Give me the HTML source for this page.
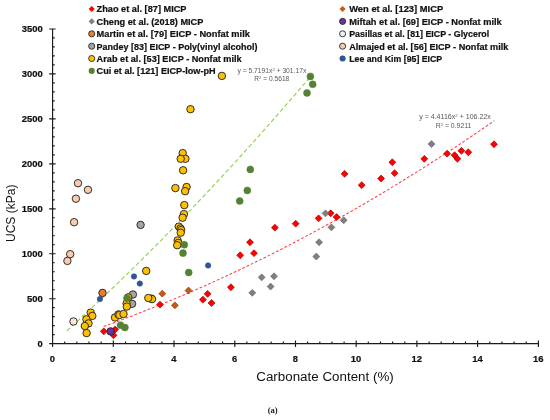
<!DOCTYPE html><html><head><meta charset="utf-8"><title>UCS vs Carbonate Content</title>
<style>html,body{margin:0;padding:0;background:#fff}svg{display:block}text{font-family:"Liberation Sans",sans-serif}.b{font-weight:bold;fill:#111;stroke:#111;stroke-width:0.22px}.eq{fill:#595959;font-size:6.6px}</style></head><body>
<svg width="550" height="420" viewBox="0 0 550 420">
<rect width="550" height="420" fill="#fff"/>
<path d="M52.6 29.0V343.6H538.4M49.2 343.6H55.6M52.6 334.6H54.7M52.6 325.6H54.7M52.6 316.6H54.7M52.6 307.6H54.7M49.2 298.7H55.6M52.6 289.7H54.7M52.6 280.7H54.7M52.6 271.7H54.7M52.6 262.7H54.7M49.2 253.7H55.6M52.6 244.7H54.7M52.6 235.7H54.7M52.6 226.7H54.7M52.6 217.7H54.7M49.2 208.8H55.6M52.6 199.8H54.7M52.6 190.8H54.7M52.6 181.8H54.7M52.6 172.8H54.7M49.2 163.8H55.6M52.6 154.8H54.7M52.6 145.8H54.7M52.6 136.8H54.7M52.6 127.8H54.7M49.2 118.9H55.6M52.6 109.9H54.7M52.6 100.9H54.7M52.6 91.9H54.7M52.6 82.9H54.7M49.2 73.9H55.6M52.6 64.9H54.7M52.6 55.9H54.7M52.6 46.9H54.7M52.6 37.9H54.7M49.2 29.0H55.6M52.6 340.6V347.0M64.7 341.5V343.6M76.9 341.5V343.6M89.0 341.5V343.6M101.2 341.5V343.6M113.3 340.6V347.0M125.5 341.5V343.6M137.6 341.5V343.6M149.8 341.5V343.6M161.9 341.5V343.6M174.0 340.6V347.0M186.2 341.5V343.6M198.3 341.5V343.6M210.5 341.5V343.6M222.6 341.5V343.6M234.8 340.6V347.0M246.9 341.5V343.6M259.0 341.5V343.6M271.2 341.5V343.6M283.3 341.5V343.6M295.5 340.6V347.0M307.6 341.5V343.6M319.8 341.5V343.6M331.9 341.5V343.6M344.1 341.5V343.6M356.2 340.6V347.0M368.3 341.5V343.6M380.5 341.5V343.6M392.6 341.5V343.6M404.8 341.5V343.6M416.9 340.6V347.0M429.1 341.5V343.6M441.2 341.5V343.6M453.4 341.5V343.6M465.5 341.5V343.6M477.6 340.6V347.0M489.8 341.5V343.6M501.9 341.5V343.6M514.1 341.5V343.6M526.2 341.5V343.6M538.4 340.6V347.0" stroke="#1a1a1a" stroke-width="1.15" fill="none"/>
<polyline points="66.9,330.8 73.0,325.2 79.1,319.6 85.2,314.0 91.2,308.3 97.3,302.6 103.4,296.8 109.5,291.0 115.6,285.2 121.7,279.3 127.8,273.4 133.9,267.4 140.0,261.4 146.1,255.3 152.2,249.2 158.3,243.1 164.4,236.9 170.5,230.7 176.6,224.5 182.7,218.2 188.8,211.8 194.9,205.4 201.0,199.0 207.0,192.6 213.1,186.0 219.2,179.5 225.3,172.9 231.4,166.3 237.5,159.6 243.6,152.9 249.7,146.1 255.8,139.3 261.9,132.5 268.0,125.6 274.1,118.7 280.2,111.7 286.3,104.7 292.4,97.7 298.5,90.6 304.6,83.5 310.7,76.3" fill="none" stroke="#92d050" stroke-width="1.15" stroke-dasharray="4.2 2.6"/>
<polyline points="103.6,326.4 113.4,322.9 123.1,319.3 132.9,315.6 142.7,311.8 152.4,307.9 162.2,304.0 172.0,299.9 181.8,295.8 191.5,291.6 201.3,287.3 211.1,283.0 220.8,278.5 230.6,274.0 240.4,269.4 250.1,264.7 259.9,259.9 269.7,255.1 279.4,250.1 289.2,245.1 299.0,240.0 308.7,234.8 318.5,229.5 328.3,224.2 338.0,218.8 347.8,213.2 357.6,207.7 367.3,202.0 377.1,196.2 386.9,190.4 396.7,184.4 406.4,178.4 416.2,172.4 426.0,166.2 435.7,159.9 445.5,153.6 455.3,147.2 465.0,140.7 474.8,134.1 484.6,127.4 494.3,120.7" fill="none" stroke="#ff4040" stroke-width="1.05" stroke-dasharray="2.8 1.9"/>
<path d="M230.9 283.8l3.45 3.45l-3.45 3.45l-3.45 -3.45zM240.2 251.8l3.45 3.45l-3.45 3.45l-3.45 -3.45zM250.0 238.8l3.45 3.45l-3.45 3.45l-3.45 -3.45zM254.0 249.7l3.45 3.45l-3.45 3.45l-3.45 -3.45zM274.9 224.2l3.45 3.45l-3.45 3.45l-3.45 -3.45zM295.7 220.2l3.45 3.45l-3.45 3.45l-3.45 -3.45zM318.6 214.9l3.45 3.45l-3.45 3.45l-3.45 -3.45zM330.7 209.8l3.45 3.45l-3.45 3.45l-3.45 -3.45zM336.6 213.6l3.45 3.45l-3.45 3.45l-3.45 -3.45zM344.6 170.4l3.45 3.45l-3.45 3.45l-3.45 -3.45zM361.7 181.7l3.45 3.45l-3.45 3.45l-3.45 -3.45zM381.1 175.1l3.45 3.45l-3.45 3.45l-3.45 -3.45zM392.3 158.8l3.45 3.45l-3.45 3.45l-3.45 -3.45zM394.6 169.7l3.45 3.45l-3.45 3.45l-3.45 -3.45zM424.3 155.4l3.45 3.45l-3.45 3.45l-3.45 -3.45zM447.1 150.2l3.45 3.45l-3.45 3.45l-3.45 -3.45zM454.6 151.7l3.45 3.45l-3.45 3.45l-3.45 -3.45zM457.4 155.3l3.45 3.45l-3.45 3.45l-3.45 -3.45zM461.4 147.3l3.45 3.45l-3.45 3.45l-3.45 -3.45zM468.3 148.8l3.45 3.45l-3.45 3.45l-3.45 -3.45zM494.0 140.8l3.45 3.45l-3.45 3.45l-3.45 -3.45zM207.6 290.4l3.45 3.45l-3.45 3.45l-3.45 -3.45zM202.9 296.2l3.45 3.45l-3.45 3.45l-3.45 -3.45zM211.5 299.6l3.45 3.45l-3.45 3.45l-3.45 -3.45zM160.0 301.2l3.45 3.45l-3.45 3.45l-3.45 -3.45zM103.8 327.9l3.45 3.45l-3.45 3.45l-3.45 -3.45zM115.1 326.1l3.45 3.45l-3.45 3.45l-3.45 -3.45zM113.5 331.8l3.45 3.45l-3.45 3.45l-3.45 -3.45z" fill="#ff0000" stroke="#a80000" stroke-width="0.7"/>
<path d="M162.3 290.2l3.45 3.45l-3.45 3.45l-3.45 -3.45zM188.5 287.1l3.45 3.45l-3.45 3.45l-3.45 -3.45zM174.9 301.9l3.45 3.45l-3.45 3.45l-3.45 -3.45z" fill="#c55a11" stroke="#8a3f0c" stroke-width="0.7"/>
<path d="M252.3 289.4l3.45 3.45l-3.45 3.45l-3.45 -3.45zM261.7 273.9l3.45 3.45l-3.45 3.45l-3.45 -3.45zM274.0 272.8l3.45 3.45l-3.45 3.45l-3.45 -3.45zM270.6 283.1l3.45 3.45l-3.45 3.45l-3.45 -3.45zM316.3 253.1l3.45 3.45l-3.45 3.45l-3.45 -3.45zM319.1 238.8l3.45 3.45l-3.45 3.45l-3.45 -3.45zM331.4 223.9l3.45 3.45l-3.45 3.45l-3.45 -3.45zM325.5 209.9l3.45 3.45l-3.45 3.45l-3.45 -3.45zM343.7 216.8l3.45 3.45l-3.45 3.45l-3.45 -3.45zM431.5 140.6l3.45 3.45l-3.45 3.45l-3.45 -3.45z" fill="#7f7f7f" stroke="#6a6a6a" stroke-width="0.7"/>
<g fill="#2f5597" stroke="#2a4d8a" stroke-width="0.5"><circle cx="99.9" cy="299.1" r="2.75"/><circle cx="134.0" cy="276.4" r="2.75"/><circle cx="139.8" cy="283.6" r="2.75"/><circle cx="208.1" cy="265.4" r="2.75"/></g>
<g fill="#7030a0" stroke="#262626" stroke-width="0.95"><circle cx="110.6" cy="331.4" r="3.72"/></g>
<g fill="#ed7d31" stroke="#262626" stroke-width="0.95"><circle cx="102.5" cy="292.9" r="3.72"/></g>
<g fill="#fbe5d6" stroke="#262626" stroke-width="0.95"><circle cx="73.5" cy="321.5" r="3.72"/></g>
<g fill="#a5a5a5" stroke="#262626" stroke-width="0.95"><circle cx="140.6" cy="224.9" r="3.72"/><circle cx="132.9" cy="294.5" r="3.72"/><circle cx="132.1" cy="303.8" r="3.72"/></g>
<g fill="#f8cbad" stroke="#262626" stroke-width="0.95"><circle cx="78.0" cy="183.2" r="3.72"/><circle cx="88.0" cy="189.8" r="3.72"/><circle cx="75.9" cy="198.7" r="3.72"/><circle cx="74.1" cy="222.2" r="3.72"/><circle cx="70.2" cy="254.2" r="3.72"/><circle cx="67.4" cy="260.9" r="3.72"/></g>
<g fill="#ffc000" stroke="#262626" stroke-width="0.95"><circle cx="221.9" cy="75.9" r="3.72"/><circle cx="190.5" cy="109.2" r="3.72"/><circle cx="182.7" cy="153.1" r="3.72"/><circle cx="185.4" cy="158.8" r="3.72"/><circle cx="180.7" cy="158.8" r="3.72"/><circle cx="183.1" cy="170.3" r="3.72"/><circle cx="175.4" cy="188.1" r="3.72"/><circle cx="186.6" cy="187.0" r="3.72"/><circle cx="185.1" cy="191.2" r="3.72"/><circle cx="184.3" cy="205.1" r="3.72"/><circle cx="183.9" cy="214.1" r="3.72"/><circle cx="182.6" cy="217.7" r="3.72"/><circle cx="178.8" cy="226.6" r="3.72"/><circle cx="180.5" cy="228.5" r="3.72"/><circle cx="181.2" cy="230.1" r="3.72"/><circle cx="180.7" cy="232.7" r="3.72"/><circle cx="177.6" cy="240.4" r="3.72"/><circle cx="178.3" cy="242.9" r="3.72"/><circle cx="177.2" cy="245.2" r="3.72"/><circle cx="151.3" cy="298.6" r="3.72"/><circle cx="152.0" cy="299.1" r="3.72"/><circle cx="148.3" cy="298.0" r="3.72"/><circle cx="146.2" cy="270.9" r="3.72"/><circle cx="128.2" cy="297.3" r="3.72"/><circle cx="126.6" cy="303.5" r="3.72"/><circle cx="126.8" cy="306.6" r="3.72"/><circle cx="115.0" cy="317.5" r="3.72"/><circle cx="118.4" cy="314.4" r="3.72"/><circle cx="119.5" cy="315.0" r="3.72"/><circle cx="123.5" cy="314.0" r="3.72"/><circle cx="90.7" cy="312.6" r="3.72"/><circle cx="92.3" cy="315.9" r="3.72"/><circle cx="86.4" cy="319.3" r="3.72"/><circle cx="88.5" cy="323.4" r="3.72"/><circle cx="84.8" cy="326.0" r="3.72"/><circle cx="86.6" cy="333.1" r="3.72"/></g>
<g fill="#548235" stroke="#548235" stroke-width="0.5"><circle cx="310.4" cy="76.4" r="3.5"/><circle cx="312.7" cy="84.3" r="3.5"/><circle cx="307.0" cy="92.9" r="3.5"/><circle cx="250.3" cy="169.4" r="3.5"/><circle cx="247.3" cy="190.4" r="3.5"/><circle cx="239.7" cy="201.0" r="3.5"/><circle cx="184.3" cy="244.7" r="3.5"/><circle cx="183.0" cy="253.1" r="3.5"/><circle cx="188.7" cy="272.5" r="3.5"/><circle cx="127.0" cy="298.2" r="3.5"/><circle cx="120.5" cy="325.2" r="3.5"/><circle cx="124.9" cy="327.5" r="3.5"/></g>
<path d="M91.7 5.9l3.1 3.1l-3.1 3.1l-3.1 -3.1z" fill="#ff0000"/>
<text class="b" x="96.6" y="12.3" font-size="9.5" textLength="89.9" lengthAdjust="spacingAndGlyphs">Zhao et al. [87] MICP</text>
<path d="M91.7 18.299999999999997l3.1 3.1l-3.1 3.1l-3.1 -3.1z" fill="#7f7f7f"/>
<text class="b" x="96.6" y="24.7" font-size="9.5" textLength="106.8" lengthAdjust="spacingAndGlyphs">Cheng et al. (2018) MICP</text>
<circle cx="91.7" cy="33.8" r="3.05" fill="#ed7d31" stroke="#262626" stroke-width="0.9"/>
<text class="b" x="96.6" y="37.1" font-size="9.5" textLength="153.3" lengthAdjust="spacingAndGlyphs">Martin et al. [79] EICP - Nonfat milk</text>
<circle cx="91.7" cy="46.2" r="3.05" fill="#a5a5a5" stroke="#262626" stroke-width="0.9"/>
<text class="b" x="96.6" y="49.5" font-size="9.5" textLength="160.8" lengthAdjust="spacingAndGlyphs">Pandey [83] EICP - Poly(vinyl alcohol)</text>
<circle cx="91.7" cy="58.5" r="3.05" fill="#ffc000" stroke="#262626" stroke-width="0.9"/>
<text class="b" x="96.6" y="61.8" font-size="9.5" textLength="145.1" lengthAdjust="spacingAndGlyphs">Arab et al. [53] EICP - Nonfat milk</text>
<circle cx="91.7" cy="70.9" r="3.05" fill="#548235"/>
<text class="b" x="96.6" y="74.2" font-size="9.5" textLength="119" lengthAdjust="spacingAndGlyphs">Cui et al. [121] EICP-low-pH</text>
<path d="M342.6 5.9l3.1 3.1l-3.1 3.1l-3.1 -3.1z" fill="#c55a11"/>
<text class="b" x="349.2" y="12.3" font-size="9.5" textLength="94" lengthAdjust="spacingAndGlyphs">Wen et al. [123] MICP</text>
<circle cx="342.6" cy="21.4" r="3.05" fill="#7030a0" stroke="#262626" stroke-width="0.9"/>
<text class="b" x="349.2" y="24.7" font-size="9.5" textLength="152.5" lengthAdjust="spacingAndGlyphs">Miftah et al. [69] EICP - Nonfat milk</text>
<circle cx="342.6" cy="33.8" r="3.05" fill="#f2f2f2" stroke="#262626" stroke-width="0.9"/>
<text class="b" x="349.2" y="37.1" font-size="9.5" textLength="140" lengthAdjust="spacingAndGlyphs">Pasillas et al. [81] EICP - Glycerol</text>
<circle cx="342.6" cy="46.2" r="3.05" fill="#f8cbad" stroke="#262626" stroke-width="0.9"/>
<text class="b" x="349.2" y="49.5" font-size="9.5" textLength="159.2" lengthAdjust="spacingAndGlyphs">Almajed et al. [56] EICP - Nonfat milk</text>
<circle cx="342.6" cy="58.5" r="3.05" fill="#2f5597"/>
<text class="b" x="349.2" y="61.8" font-size="9.5" textLength="93" lengthAdjust="spacingAndGlyphs">Lee and Kim [95] EICP</text>
<text class="b" x="37.5" y="347.0" font-size="9.4" textLength="5.2" lengthAdjust="spacingAndGlyphs">0</text>
<text class="b" x="27.0" y="302.1" font-size="9.4" textLength="15.8" lengthAdjust="spacingAndGlyphs">500</text>
<text class="b" x="21.7" y="257.1" font-size="9.4" textLength="21.0" lengthAdjust="spacingAndGlyphs">1000</text>
<text class="b" x="21.7" y="212.2" font-size="9.4" textLength="21.0" lengthAdjust="spacingAndGlyphs">1500</text>
<text class="b" x="21.7" y="167.2" font-size="9.4" textLength="21.0" lengthAdjust="spacingAndGlyphs">2000</text>
<text class="b" x="21.7" y="122.3" font-size="9.4" textLength="21.0" lengthAdjust="spacingAndGlyphs">2500</text>
<text class="b" x="21.7" y="77.3" font-size="9.4" textLength="21.0" lengthAdjust="spacingAndGlyphs">3000</text>
<text class="b" x="21.7" y="32.4" font-size="9.4" textLength="21.0" lengthAdjust="spacingAndGlyphs">3500</text>
<text class="b" x="49.8" y="362.1" font-size="9.4" textLength="5.2" lengthAdjust="spacingAndGlyphs">0</text>
<text class="b" x="110.5" y="362.1" font-size="9.4" textLength="5.2" lengthAdjust="spacingAndGlyphs">2</text>
<text class="b" x="171.2" y="362.1" font-size="9.4" textLength="5.2" lengthAdjust="spacingAndGlyphs">4</text>
<text class="b" x="231.9" y="362.1" font-size="9.4" textLength="5.2" lengthAdjust="spacingAndGlyphs">6</text>
<text class="b" x="292.7" y="362.1" font-size="9.4" textLength="5.2" lengthAdjust="spacingAndGlyphs">8</text>
<text class="b" x="350.8" y="362.1" font-size="9.4" textLength="10.5" lengthAdjust="spacingAndGlyphs">10</text>
<text class="b" x="411.5" y="362.1" font-size="9.4" textLength="10.5" lengthAdjust="spacingAndGlyphs">12</text>
<text class="b" x="472.2" y="362.1" font-size="9.4" textLength="10.5" lengthAdjust="spacingAndGlyphs">14</text>
<text class="b" x="532.9" y="362.1" font-size="9.4" textLength="10.5" lengthAdjust="spacingAndGlyphs">16</text>
<text x="325" y="381" font-size="13.7" text-anchor="middle" fill="#111" textLength="137.5" lengthAdjust="spacingAndGlyphs">Carbonate Content (%)</text>
<text transform="translate(15.3 213.3) rotate(-90)" font-size="13.7" text-anchor="middle" fill="#111" textLength="57.5" lengthAdjust="spacingAndGlyphs">UCS (kPa)</text>
<text class="eq" x="237.5" y="72.8" textLength="68.8" lengthAdjust="spacingAndGlyphs">y = 5.7191x<tspan font-size="4" dy="-2">2</tspan><tspan dy="2"> + 301.17x</tspan></text>
<text class="eq" x="254.3" y="81.2" textLength="35" lengthAdjust="spacingAndGlyphs">R<tspan font-size="4" dy="-2">2</tspan><tspan dy="2"> = 0.5618</tspan></text>
<text class="eq" x="419.2" y="119.4" textLength="71.6" lengthAdjust="spacingAndGlyphs">y = 4.4116x<tspan font-size="4" dy="-2">2</tspan><tspan dy="2"> + 106.22x</tspan></text>
<text class="eq" x="435.8" y="128" textLength="35.5" lengthAdjust="spacingAndGlyphs">R<tspan font-size="4" dy="-2">2</tspan><tspan dy="2"> = 0.9211</tspan></text>
<text x="272.7" y="412.6" text-anchor="middle" font-size="8.6" font-weight="bold" fill="#1a1a1a" style="font-family:'Liberation Serif',serif">(a)</text>
</svg></body></html>
